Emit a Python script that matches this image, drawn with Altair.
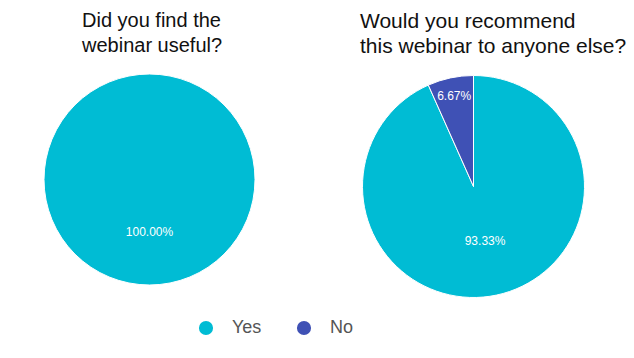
import altair as alt
import pandas as pd

# ---- data ----
categories = ["Yes", "No"]
useful_pct = [100.00, 0.00]
recommend_pct = [93.33, 6.67]
title_useful = ["Did you find the", "webinar useful?"]
title_recommend = ["Would you recommend", "this webinar to anyone else?"]
colors = ["#00BCD4", "#3F51B5"]

FONT = "Liberation Sans"

def make_df(values):
    return pd.DataFrame({"category": categories, "pct": values, "order": list(range(len(categories)))})

df_useful = make_df(useful_pct)
df_recommend = make_df(recommend_pct)

color = alt.Color(
    "category:N",
    scale=alt.Scale(domain=categories, range=colors),
    legend=alt.Legend(title=None),
)


def pie_layers(df, cx, cy, r, small_r):
    base = alt.Chart(df).encode(
        theta=alt.Theta("pct:Q", stack=True),
        order=alt.Order("order:Q"),
        x=alt.value(cx),
        y=alt.value(cy),
    )
    arcs = base.transform_filter("datum.pct > 0").mark_arc(
        radius=r, stroke="white", strokeWidth=1
    ).encode(color=color)
    lbl = base.transform_calculate(
        big_label="datum.pct >= 20 ? format(datum.pct, '.2f') + '%' : ''",
        small_label="datum.pct > 0 && datum.pct < 20 ? format(datum.pct, '.2f') + '%' : ''",
    )
    big = lbl.mark_text(
        radius=r * 0.5, color="white", font=FONT, fontSize=12, baseline="middle", align="center"
    ).encode(text="big_label:N")
    small = lbl.mark_text(
        radius=small_r, color="white", font=FONT, fontSize=12, baseline="middle", align="center"
    ).encode(text="small_label:N")
    return [arcs, big, small]


title_src = alt.Data(values=[{"k": 1}])

t1 = alt.Chart(title_src).mark_text(
    text=title_useful, font=FONT, fontSize=20, color="#111111", align="left",
    baseline="alphabetic", lineHeight=24.5
).encode(x=alt.value(82), y=alt.value(27))

t2 = alt.Chart(title_src).mark_text(
    text=title_recommend, font=FONT, fontSize=21, color="#111111", align="left",
    baseline="alphabetic", lineHeight=24.5
).encode(x=alt.value(360), y=alt.value(28))

layers = pie_layers(df_useful, 149.5, 179.5, 105.5, 90) + pie_layers(df_recommend, 473.5, 186.5, 111, 93) + [t1, t2]

chart = alt.layer(*layers).properties(
    width=634,
    height=358,
    autosize=alt.AutoSizeParams(type="none"),
    padding=0,
).configure_view(strokeWidth=0).configure_legend(
    orient="none",
    legendX=197,
    legendY=319,
    direction="horizontal",
    symbolType="circle",
    symbolSize=200,
    symbolStrokeWidth=0,
    labelFontSize=18,
    labelFont=FONT,
    labelColor="#555555",
    labelOffset=17,
    columnPadding=33,
)

chart.save("out.html", embed_options={"renderer": "svg", "actions": False})
